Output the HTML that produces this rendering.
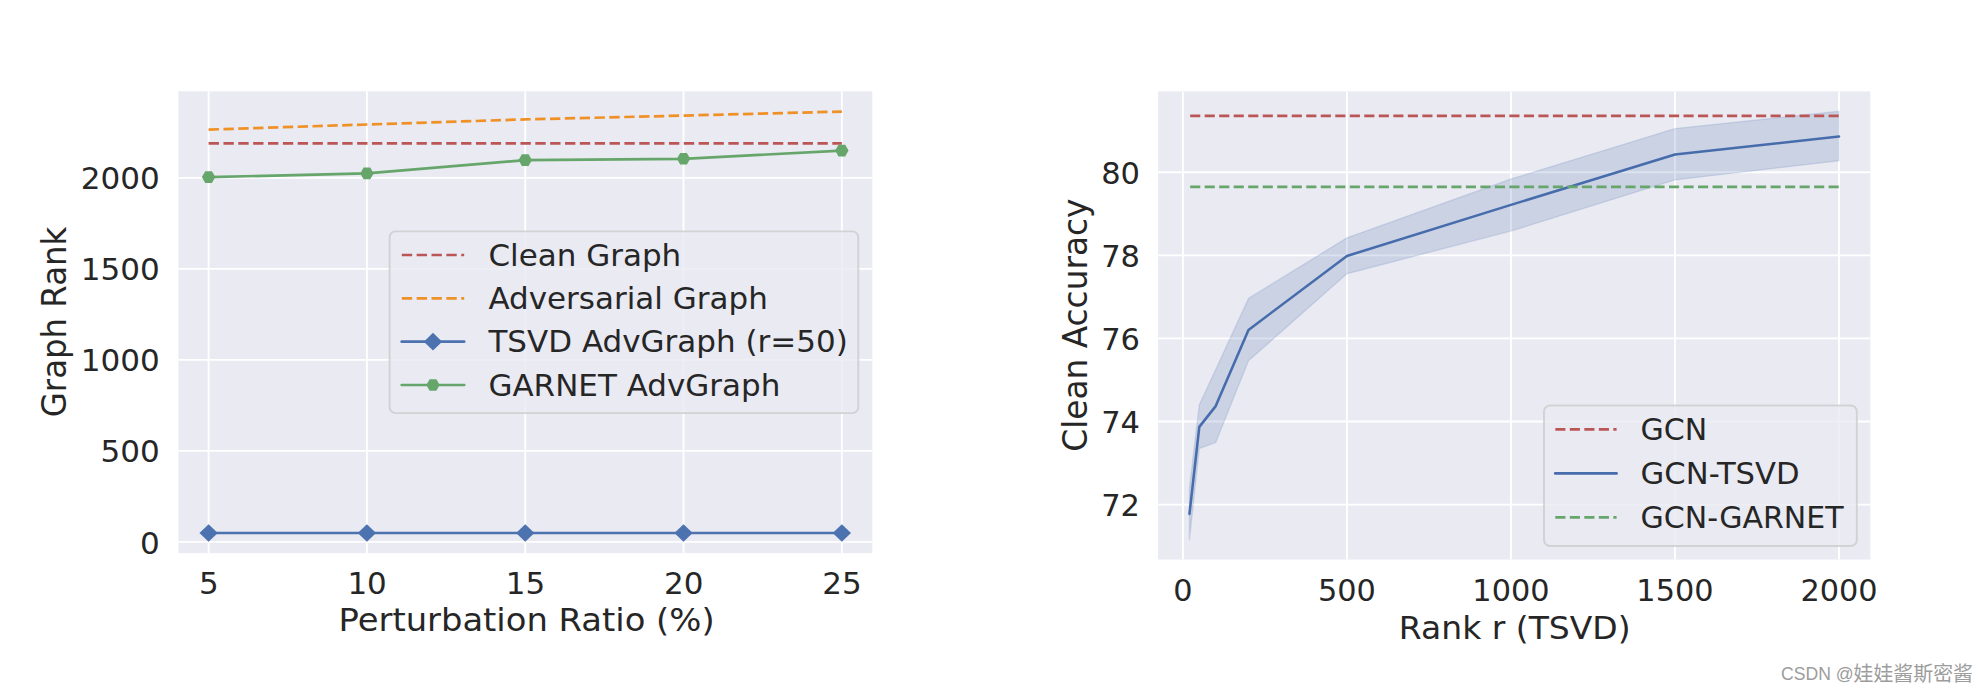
<!DOCTYPE html>
<html lang="zh">
<head>
<meta charset="utf-8">
<title>Graph Rank and Clean Accuracy</title>
<style>
html,body{margin:0;padding:0;background:#ffffff;}
body{width:1988px;height:692px;overflow:hidden;font-family:"DejaVu Sans","Liberation Sans","Noto Sans CJK SC",sans-serif;}
svg{display:block;}
</style>
</head>
<body>
<svg width="1988" height="692" viewBox="0 0 1988 692">
<rect x="0" y="0" width="1988" height="692" fill="#ffffff"/>
<g id="left-chart">
<rect x="178.4" y="91.3" width="693.90" height="461.80" fill="#eaeaf2"/>
<g stroke="#ffffff" stroke-width="1.85" fill="none">
<line x1="208.60" y1="91.3" x2="208.60" y2="553.1"/>
<line x1="366.91" y1="91.3" x2="366.91" y2="553.1"/>
<line x1="525.23" y1="91.3" x2="525.23" y2="553.1"/>
<line x1="683.54" y1="91.3" x2="683.54" y2="553.1"/>
<line x1="841.85" y1="91.3" x2="841.85" y2="553.1"/>
<line x1="178.4" y1="541.85" x2="872.3" y2="541.85"/>
<line x1="178.4" y1="450.84" x2="872.3" y2="450.84"/>
<line x1="178.4" y1="359.83" x2="872.3" y2="359.83"/>
<line x1="178.4" y1="268.81" x2="872.3" y2="268.81"/>
<line x1="178.4" y1="177.80" x2="872.3" y2="177.80"/>
</g>
<line x1="208.60" y1="143.45" x2="841.85" y2="143.45" stroke="#bb5657" stroke-width="2.7" stroke-dasharray="10.37 4.48"/>
<polyline points="208.60,129.60 366.91,124.50 525.23,119.40 683.54,115.60 841.85,111.60" fill="none" stroke="#f09128" stroke-width="2.7" stroke-dasharray="10.37 4.48"/>
<line x1="208.60" y1="533.0" x2="841.85" y2="533.0" stroke="#4c72b0" stroke-width="2.7" stroke-linecap="butt"/>
<path d="M208.60 524.15 L217.75 533.00 L208.60 541.85 L199.45 533.00 Z" fill="#4c72b0"/>
<path d="M366.91 524.15 L376.06 533.00 L366.91 541.85 L357.76 533.00 Z" fill="#4c72b0"/>
<path d="M525.23 524.15 L534.38 533.00 L525.23 541.85 L516.08 533.00 Z" fill="#4c72b0"/>
<path d="M683.54 524.15 L692.69 533.00 L683.54 541.85 L674.39 533.00 Z" fill="#4c72b0"/>
<path d="M841.85 524.15 L851.00 533.00 L841.85 541.85 L832.70 533.00 Z" fill="#4c72b0"/>
<polyline points="208.60,177.10 366.91,173.40 525.23,160.10 683.54,158.80 841.85,150.60" fill="none" stroke="#66a66b" stroke-width="2.7" stroke-linejoin="round"/>
<polygon points="215.30,177.10 211.95,182.90 205.25,182.90 201.90,177.10 205.25,171.30 211.95,171.30" fill="#66a66b"/>
<polygon points="373.61,173.40 370.26,179.20 363.56,179.20 360.21,173.40 363.56,167.60 370.26,167.60" fill="#66a66b"/>
<polygon points="531.93,160.10 528.58,165.90 521.88,165.90 518.52,160.10 521.88,154.30 528.58,154.30" fill="#66a66b"/>
<polygon points="690.24,158.80 686.89,164.60 680.19,164.60 676.84,158.80 680.19,153.00 686.89,153.00" fill="#66a66b"/>
<polygon points="848.55,150.60 845.20,156.40 838.50,156.40 835.15,150.60 838.50,144.80 845.20,144.80" fill="#66a66b"/>
<g font-family="'DejaVu Sans', 'Liberation Sans', sans-serif" font-size="29.6" fill="#262626">
<text transform="translate(159.70 553.50) scale(1.022 1)" text-anchor="end" font-size="30.4">0</text>
<text transform="translate(159.70 462.49) scale(1.022 1)" text-anchor="end" font-size="30.4">500</text>
<text transform="translate(159.70 371.48) scale(1.022 1)" text-anchor="end" font-size="30.4">1000</text>
<text transform="translate(159.70 280.46) scale(1.022 1)" text-anchor="end" font-size="30.4">1500</text>
<text transform="translate(159.70 189.45) scale(1.022 1)" text-anchor="end" font-size="30.4">2000</text>
<text transform="translate(208.80 593.60) scale(1.026 1)" text-anchor="middle" font-size="30.2">5</text>
<text transform="translate(367.11 593.60) scale(1.026 1)" text-anchor="middle" font-size="30.2">10</text>
<text transform="translate(525.43 593.60) scale(1.026 1)" text-anchor="middle" font-size="30.2">15</text>
<text transform="translate(683.74 593.60) scale(1.026 1)" text-anchor="middle" font-size="30.2">20</text>
<text transform="translate(842.05 593.60) scale(1.026 1)" text-anchor="middle" font-size="30.2">25</text>
</g>
<g font-family="'DejaVu Sans', 'Liberation Sans', sans-serif" font-size="32.3" fill="#262626">
<text transform="translate(526.55 631.30) scale(1.047 1)" text-anchor="middle">Perturbation Ratio (%)</text>
<text transform="translate(66.20 322.00) scale(1.06 1) rotate(-90)" text-anchor="middle" font-size="32.4">Graph Rank</text>
</g>
<rect x="389.6" y="231.4" width="468.70" height="181.70" rx="6" ry="6" fill="#eaeaf2" fill-opacity="0.8" stroke="#cccccc" stroke-opacity="0.8" stroke-width="1.9"/>
<line x1="401.8" y1="255.0" x2="464.2" y2="255.0" stroke="#bb5657" stroke-width="2.7" stroke-dasharray="10.37 4.48"/>
<line x1="401.8" y1="298.3" x2="464.2" y2="298.3" stroke="#f09128" stroke-width="2.7" stroke-dasharray="10.37 4.48"/>
<line x1="401.70" y1="341.7" x2="464.20" y2="341.7" stroke="#4c72b0" stroke-width="2.7" stroke-linecap="round"/>
<path d="M433.00 332.85 L442.15 341.70 L433.00 350.55 L423.85 341.70 Z" fill="#4c72b0"/>
<line x1="401.70" y1="385.0" x2="464.20" y2="385.0" stroke="#66a66b" stroke-width="2.7" stroke-linecap="round"/>
<polygon points="439.70,385.00 436.35,390.80 429.65,390.80 426.30,385.00 429.65,379.20 436.35,379.20" fill="#66a66b"/>
<g font-family="'DejaVu Sans', 'Liberation Sans', sans-serif" font-size="29.6" fill="#262626">
<text transform="translate(488.40 265.60) scale(1.047 1)">Clean Graph</text>
<text transform="translate(488.40 308.90) scale(1.047 1)">Adversarial Graph</text>
<text transform="translate(488.40 352.30) scale(1.047 1)">TSVD AdvGraph (r=50)</text>
<text transform="translate(488.40 395.60) scale(1.047 1)">GARNET AdvGraph</text>
</g>
</g>
<g id="right-chart">
<rect x="1158.1" y="91.4" width="712.20" height="468.10" fill="#eaeaf2"/>
<g stroke="#ffffff" stroke-width="1.85" fill="none">
<line x1="1182.90" y1="91.4" x2="1182.90" y2="559.5"/>
<line x1="1346.93" y1="91.4" x2="1346.93" y2="559.5"/>
<line x1="1510.95" y1="91.4" x2="1510.95" y2="559.5"/>
<line x1="1674.97" y1="91.4" x2="1674.97" y2="559.5"/>
<line x1="1839.00" y1="91.4" x2="1839.00" y2="559.5"/>
<line x1="1158.1" y1="504.60" x2="1870.3" y2="504.60"/>
<line x1="1158.1" y1="421.50" x2="1870.3" y2="421.50"/>
<line x1="1158.1" y1="338.40" x2="1870.3" y2="338.40"/>
<line x1="1158.1" y1="255.30" x2="1870.3" y2="255.30"/>
<line x1="1158.1" y1="172.20" x2="1870.3" y2="172.20"/>
</g>
<polygon points="1189.46,488.00 1199.30,404.70 1215.71,369.50 1248.51,298.40 1346.93,237.80 1510.95,179.00 1674.97,128.60 1839.00,111.20 1839.00,160.80 1674.97,179.90 1510.95,231.10 1346.93,273.70 1248.51,360.80 1215.71,442.60 1199.30,448.50 1189.46,539.80" fill="#4c72b0" fill-opacity="0.2" stroke="#4c72b0" stroke-opacity="0.16" stroke-width="1.4" stroke-linejoin="round"/>
<line x1="1190.16" y1="115.9" x2="1839.00" y2="115.9" stroke="#bb5657" stroke-width="2.74" stroke-dasharray="10.13 4.38"/>
<polyline points="1189.46,513.90 1199.30,426.90 1215.71,406.10 1248.51,329.90 1346.93,256.00 1510.95,204.90 1674.97,154.50 1839.00,136.60" fill="none" stroke="#476cac" stroke-width="2.55" stroke-linejoin="round" stroke-linecap="round"/>
<line x1="1190.16" y1="186.95" x2="1839.00" y2="186.95" stroke="#66a66b" stroke-width="2.74" stroke-dasharray="10.13 4.38"/>
<g font-family="'DejaVu Sans', 'Liberation Sans', sans-serif" font-size="30.1" fill="#262626">
<text transform="translate(1140.00 516.00) scale(0.985 1)" text-anchor="end" font-size="31.0">72</text>
<text transform="translate(1140.00 432.90) scale(0.985 1)" text-anchor="end" font-size="31.0">74</text>
<text transform="translate(1140.00 349.80) scale(0.985 1)" text-anchor="end" font-size="31.0">76</text>
<text transform="translate(1140.00 266.70) scale(0.985 1)" text-anchor="end" font-size="31.0">78</text>
<text transform="translate(1140.00 183.60) scale(0.985 1)" text-anchor="end" font-size="31.0">80</text>
<text transform="translate(1182.90 601.40) scale(0.982 1)" text-anchor="middle" font-size="30.9">0</text>
<text transform="translate(1346.93 601.40) scale(0.982 1)" text-anchor="middle" font-size="30.9">500</text>
<text transform="translate(1510.95 601.40) scale(0.982 1)" text-anchor="middle" font-size="30.9">1000</text>
<text transform="translate(1674.97 601.40) scale(0.982 1)" text-anchor="middle" font-size="30.9">1500</text>
<text transform="translate(1839.00 601.40) scale(0.982 1)" text-anchor="middle" font-size="30.9">2000</text>
</g>
<g font-family="'DejaVu Sans', 'Liberation Sans', sans-serif" font-size="32.8" fill="#262626">
<text transform="translate(1514.70 639.40) scale(1.006 1)" text-anchor="middle">Rank r (TSVD)</text>
<text transform="translate(1087.30 325.15) scale(1.006 1) rotate(-90)" text-anchor="middle">Clean Accuracy</text>
</g>
<rect x="1544.0" y="405.5" width="312.80" height="140.50" rx="6" ry="6" fill="#eaeaf2" fill-opacity="0.8" stroke="#cccccc" stroke-opacity="0.8" stroke-width="1.9"/>
<line x1="1555.3" y1="429.3" x2="1616.6" y2="429.3" stroke="#bb5657" stroke-width="2.74" stroke-dasharray="10.13 4.38"/>
<line x1="1555.20" y1="473.4" x2="1616.60" y2="473.4" stroke="#476cac" stroke-width="2.6" stroke-linecap="round"/>
<line x1="1555.3" y1="517.3" x2="1616.6" y2="517.3" stroke="#66a66b" stroke-width="2.74" stroke-dasharray="10.13 4.38"/>
<g font-family="'DejaVu Sans', 'Liberation Sans', sans-serif" font-size="30.1" fill="#262626">
<text transform="translate(1640.60 439.90) scale(0.998 1)">GCN</text>
<text transform="translate(1640.60 484.00) scale(1.0181 1)">GCN-TSVD</text>
<text transform="translate(1640.60 527.90) scale(0.998 1)">GCN-GARNET</text>
</g>
</g>
<g id="watermark" fill="#9c9c9c" stroke="#ffffff" stroke-width="0.6" paint-order="stroke">
<text transform="translate(1781 679.9) scale(0.945 1)" font-family="'Liberation Sans', 'Noto Sans CJK SC', sans-serif" font-size="18.65">CSDN @</text>
<text x="1853.6" y="681.2" font-family="'Liberation Sans', 'Noto Sans CJK SC', sans-serif" font-size="19.9">娃娃酱斯密酱</text>
</g>
</svg>
</body>
</html>
